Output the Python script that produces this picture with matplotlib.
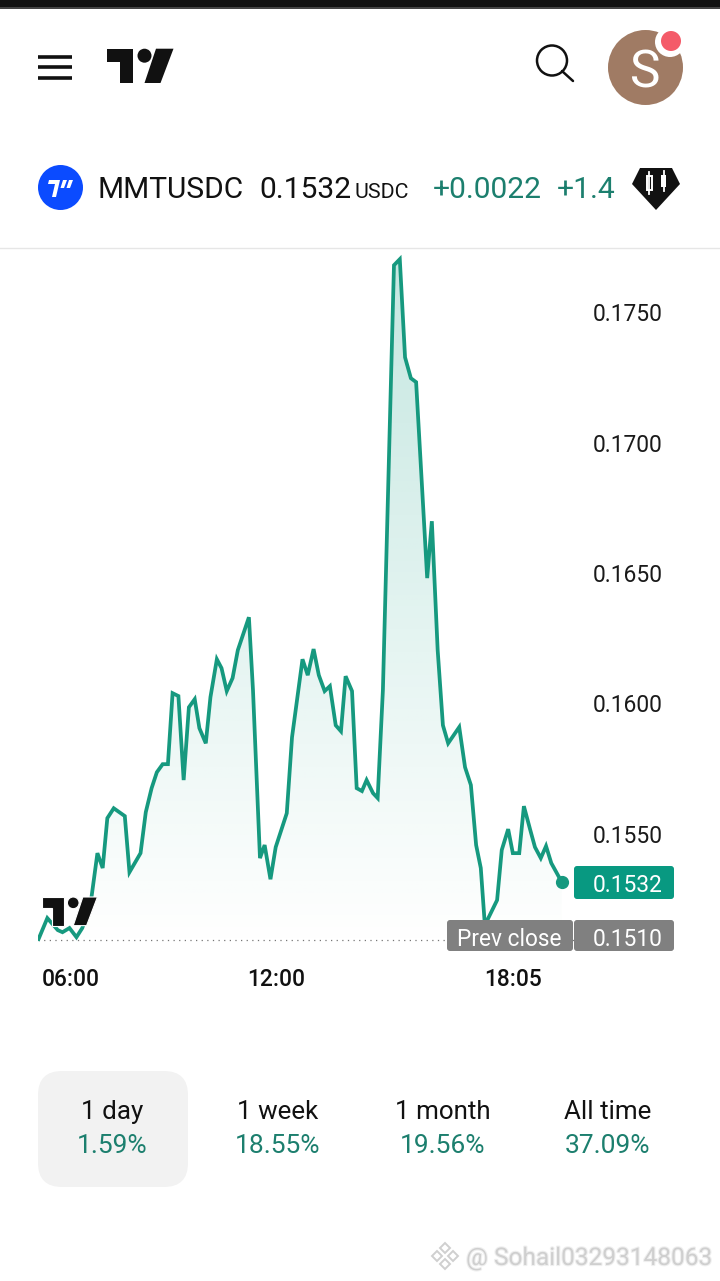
import matplotlib
matplotlib.use("Agg")
import matplotlib.pyplot as plt
import numpy as np
from matplotlib.patches import Circle, FancyBboxPatch, Polygon, Rectangle
from matplotlib.transforms import ScaledTranslation
import matplotlib.patheffects as pe

plt.rcParams['font.family'] = ['Roboto', 'DejaVu Sans']

# Price, x is the sample number along the time axis
bars = [0.1, 1.6, 3.4, 4.2, 5.4, 6.6, 7.6, 9.0, 10.2, 11.1, 11.9, 13.0, 14.9, 15.7, 17.6,
        18.5, 19.5, 20.4, 21.4, 22.3, 23.1, 24.1, 25.0, 25.9, 26.9, 27.7, 28.8, 29.6, 30.7,
        31.5, 32.4, 33.4, 34.3, 36.2, 36.9, 38.1, 38.9, 39.9, 40.8, 42.7, 43.6, 45.4, 46.3,
        47.3, 48.2, 49.2, 50.1, 51.1, 52.0, 52.8, 53.9, 54.7, 55.6, 56.4, 57.5, 58.3, 59.2,
        61.1, 62.1, 63.0, 64.0, 64.9, 66.8, 67.6, 68.6, 69.5, 70.4, 72.3, 73.3, 74.3, 75.2,
        76.0, 76.7, 78.8, 79.6, 80.7, 81.5, 82.6, 83.4, 84.5, 85.3, 86.3, 87.2, 88.1, 89.9]
prices = [0.15102, 0.15182, 0.15136, 0.15128, 0.15144, 0.15109, 0.15144, 0.15232, 0.15431,
          0.15374, 0.15565, 0.15603, 0.15573, 0.15358, 0.15431, 0.15588, 0.15680, 0.15741,
          0.15772, 0.15772, 0.16044, 0.16033, 0.15711, 0.15990, 0.16021, 0.15910, 0.15852,
          0.16029, 0.16174, 0.16140, 0.16052, 0.16102, 0.16209, 0.16335, 0.16056, 0.15412,
          0.15462, 0.15331, 0.15454, 0.15584, 0.15875, 0.16174, 0.16113, 0.16213, 0.16113,
          0.16052, 0.16071, 0.15921, 0.15898, 0.16109, 0.16052, 0.15680, 0.15669, 0.15711,
          0.15661, 0.15642, 0.16056, 0.17684, 0.17707, 0.17331, 0.17251, 0.17236, 0.16485,
          0.16703, 0.16209, 0.15921, 0.15852, 0.15914, 0.15760, 0.15692, 0.15462, 0.15374,
          0.15155, 0.15251, 0.15443, 0.15523, 0.15431, 0.15431, 0.15611, 0.15519, 0.15454,
          0.15412, 0.15458, 0.15393, 0.15320]

price_ticks = [0.1750, 0.1700, 0.1650, 0.1600, 0.1550]
time_bars = [5.6, 40.8, 81.5]
time_labels = ['06:00', '12:00', '18:05']

symbol = 'MMTUSDC'
last_price = 0.1532
prev_close = 0.1510
change_abs = '+0.0022'
change_pct = '+1.4'

periods = ['1 day', '1 week', '1 month', 'All time']
period_changes = ['1.59%', '18.55%', '19.56%', '37.09%']

GREEN = '#16997f'
TEXT_GREEN = '#1c7f6e'
GREY = '#808080'
INK = '#111111'

fig = plt.figure(figsize=(7.2, 12.81), dpi=100, facecolor='white')


def box(left, top, right, bottom):
    # pixel box (from the top left) to figure fractions
    return [left / 720, 1 - bottom / 1281, (right - left) / 720, (bottom - top) / 1281]


# the chart
ax = fig.add_axes(box(38, 248, 574, 951))
y_top, y_bottom = 0.17750, 0.15056
x_left, x_right = 0.0, 92.0

gradient = np.zeros((256, 2, 4))
gradient[:, :, 0] = 0.03
gradient[:, :, 1] = 0.60
gradient[:, :, 2] = 0.50
gradient[:, :, 3] = np.linspace(0.24, 0.0, 256)[:, None]
im = ax.imshow(gradient, extent=[x_left, x_right, y_bottom, y_top], aspect='auto',
               origin='upper', zorder=1)
outline = list(zip(bars, prices)) + [(bars[-1], y_bottom), (bars[0], y_bottom)]
clip_poly = Polygon(outline, closed=True, transform=ax.transData, facecolor='none', edgecolor='none')
ax.add_patch(clip_poly)
im.set_clip_path(clip_poly)

ax.axhline(prev_close, color='#777777', lw=0.9, ls=(0, (1, 3.5)), zorder=2)
ax.plot(bars, prices, color=GREEN, lw=2.7, solid_joinstyle='miter', zorder=3)
ax.plot(bars[-1], prices[-1], 'o', color=GREEN, ms=8.5, zorder=4, clip_on=False)

ax.set_xlim(x_left, x_right)
ax.set_ylim(y_bottom, y_top)
for s in ax.spines.values():
    s.set_visible(False)
ax.yaxis.tick_right()
ax.set_yticks(price_ticks)
ax.set_yticklabels(['%.4f' % p for p in price_ticks], fontsize=16.4, color='#1a1a1a')
ax.tick_params(axis='y', length=0, pad=13.7)
# labels sit a pixel higher than matplotlib centres them
nudge = ScaledTranslation(0, 1.2 / 100, fig.dpi_scale_trans)
for lab in ax.get_yticklabels():
    lab.set_transform(lab.get_transform() + nudge)
ax.set_xticks(time_bars)
ax.set_xticklabels(time_labels, fontsize=16.4, color=INK, fontweight='medium')
ax.tick_params(axis='x', length=0, pad=12)

# everything around the chart, in screen pixels
ui = fig.add_axes([0, 0, 1, 1], zorder=5)
ui.set_xlim(0, 720)
ui.set_ylim(1281, 0)
ui.axis('off')
ui.patch.set_alpha(0)


def tv_logo(x, y, k, halo=False):
    # TradingView mark, x,y is its top left corner
    edge = 'white' if halo else 'none'
    kw = dict(facecolor=INK, edgecolor=edge, lw=0.8 if halo else 0)
    t = [(0, 0), (26.5, 0), (26.5, 34.3), (13, 34.3), (13, 13.5), (0, 13.5)]
    slash = [(49.5, 0), (67, 0), (54, 34.3), (38, 34.3)]
    ui.add_patch(Polygon([(x + a * k, y + b * k) for a, b in t], **kw))
    ui.add_patch(Polygon([(x + a * k, y + b * k) for a, b in slash], **kw))
    ui.add_patch(Circle((x + 38 * k, y + 7 * k), 7 * k, **kw))


# status bar
ui.add_patch(Rectangle((0, 0), 720, 7, color='#111111', lw=0))
ui.add_patch(Rectangle((0, 7), 720, 1.5, color='#444444', lw=0))

# menu and logo
for yy in [57, 67, 78]:
    ui.plot([38, 72], [yy, yy], color=INK, lw=2.6, solid_capstyle='butt')
tv_logo(106.5, 48.7, 1.0)

# search icon
ui.add_patch(Circle((552, 60.5), 15, facecolor='none', edgecolor=INK, lw=1.8))
ui.plot([562, 573], [71, 81], color=INK, lw=1.8, solid_capstyle='round')

# avatar
ui.add_patch(Circle((645.5, 67.5), 37.5, facecolor='#a07b64', lw=0))
ui.text(645.5, 68, 'S', color='white', fontsize=37, ha='center', va='center_baseline')
ui.add_patch(Circle((670, 42), 15, facecolor='white', lw=0))
ui.add_patch(Circle((671, 41), 10, facecolor='#f45b69', lw=0))

# symbol row
ui.add_patch(Circle((60.5, 187.5), 22.5, facecolor='#0b4bff', lw=0))
ui.add_patch(Polygon([(49, 180), (60, 180), (56, 197), (52, 197), (55, 184), (48, 184)], facecolor='white', lw=0))
ui.add_patch(Polygon([(63, 180), (67, 180), (64, 188), (60.5, 188)], facecolor='white', lw=0))
ui.add_patch(Polygon([(69, 180), (73, 180), (70, 188), (66.5, 188)], facecolor='white', lw=0))

row_y = 187
ui.text(98, row_y, symbol, color=INK, fontsize=21.5, va='center_baseline')
ui.text(259, row_y, '%.4f' % last_price, color=INK, fontsize=21.6, va='center_baseline')
ui.text(355, row_y + 3, 'USDC', color=INK, fontsize=15.4, va='center_baseline')
ui.text(433, row_y, change_abs, color=TEXT_GREEN, fontsize=21.6, va='center_baseline')
ui.text(557, row_y, change_pct, color=TEXT_GREEN, fontsize=21.6, va='center_baseline')

# diamond icon
ui.add_patch(Polygon([(640, 168), (672, 168), (680, 184), (656, 210), (632, 184)], facecolor=INK, lw=0))
ui.add_patch(Rectangle((646.5, 176), 5.5, 14, facecolor=INK, edgecolor='white', lw=1.4))
ui.plot([649.2, 649.2], [172, 194], color='white', lw=1.3)
ui.add_patch(Rectangle((661, 175), 5, 12, facecolor='white', lw=0))
ui.plot([663.5, 663.5], [171, 191], color='white', lw=1.3)

ui.plot([0, 720], [247.5, 247.5], color='#e6e6e6', lw=1)

# watermark logo on the chart
tv_logo(41.5, 897, 0.835, halo=True)

# price tags
ui.add_patch(FancyBboxPatch((574, 866), 100, 33, boxstyle='round,pad=0,rounding_size=3', facecolor='#089981', lw=0))
ui.text(627.5, 883, '%.4f' % last_price, color='white', fontsize=16.4, ha='center', va='center_baseline')
ui.add_patch(FancyBboxPatch((447, 920), 126, 31, boxstyle='round,pad=0,rounding_size=3', facecolor=GREY, lw=0))
ui.add_patch(FancyBboxPatch((574, 920), 100, 31, boxstyle='round,pad=0,rounding_size=3', facecolor=GREY, lw=0))
ui.text(509, 937.5, 'Prev close', color='white', fontsize=16.3, ha='center', va='center_baseline')
ui.text(627.5, 937, '%.4f' % prev_close, color='white', fontsize=16.4, ha='center', va='center_baseline')

# period selector
ui.add_patch(FancyBboxPatch((38, 1071), 150, 116, boxstyle='round,pad=0,rounding_size=24', facecolor='#f2f2f2', lw=0))
for cx, name, change in zip([112.5, 277.5, 442.5, 607.5], periods, period_changes):
    ui.text(cx, 1109.5, name, color=INK, fontsize=18.7, ha='center', va='center_baseline')
    ui.text(cx, 1143.5, change, color=TEXT_GREEN, fontsize=19, ha='center', va='center_baseline')

# binance style stamp, bottom right
stamp = '#cfcfcf'
halo = [pe.withStroke(linewidth=1.6, foreground='#efefef')]
ui.text(466, 1256, '@ Sohail03293148063', color=stamp, fontsize=17.6, va='center_baseline', path_effects=halo)
for dx, dy, r in [(0, -8, 5), (-8, 0, 5), (8, 0, 5), (0, 8, 5)]:
    cx, cy = 445 + dx, 1256 + dy
    ui.add_patch(Polygon([(cx, cy - r), (cx + r, cy), (cx, cy + r), (cx - r, cy)],
                         facecolor='none', edgecolor=stamp, lw=1.4))

fig.savefig('out.png', dpi=100)
